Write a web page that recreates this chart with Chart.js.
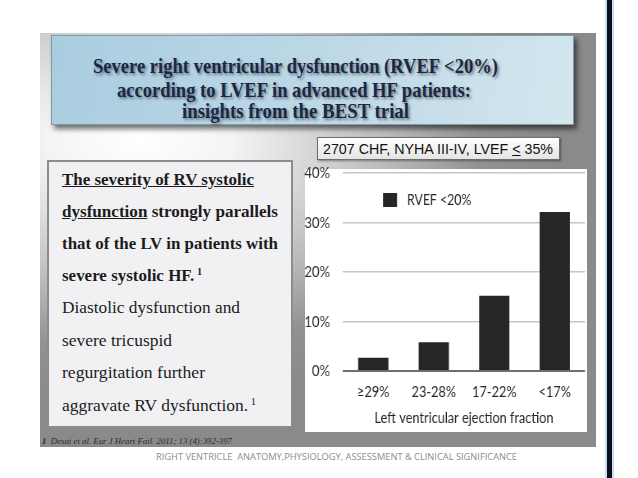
<!DOCTYPE html>
<html><head><meta charset="utf-8">
<script src="https://cdn.jsdelivr.net/npm/chart.js@4"></script>
<style>
html,body{margin:0;padding:0;background:#fff;width:638px;height:478px;overflow:hidden;position:relative}
.abs{position:absolute}
.ln{position:absolute;white-space:nowrap;transform-origin:left center}
#panel{left:40px;top:33px;width:556px;height:414px;background:radial-gradient(ellipse 75% 62% at 18% 26%, #ffffff 0%, #f4f4f4 22%, #bdbdbd 58%, #929292 82%, #8a8a8a 100%)}
#vline{left:605px;top:0;width:9px;height:478px;background:linear-gradient(to right,#c9dcf0 0,#c9dcf0 2px,#0b1020 2px,#0b1020 7px,#c9dcf0 7px,#c9dcf0 9px)}
#titlebox{left:51px;top:35px;width:521px;height:88px;background:linear-gradient(100deg,#a9cde0 0%,#bcd8e6 50%,#d3e6ee 100%);border:1px solid #7d9aa8;box-shadow:3px 4px 5px rgba(0,0,0,.55)}
.tl{font-family:'Liberation Serif',serif;font-weight:bold;font-size:22px;line-height:24px;height:24px;color:#1a2747;text-shadow:2px 2px 3px rgba(0,0,0,.45)}
#subbox{left:317px;top:137px;width:241px;height:21px;background:linear-gradient(#ffffff,#e4e4e4);border:1px solid #6d6d6d;box-shadow:1px 1px 2px rgba(0,0,0,.4)}
.sub{font-family:'Liberation Sans',sans-serif;font-size:14px;line-height:20px;height:20px;color:#111}
#textbox{left:47px;top:160px;width:242px;height:264px;background:#f1f1f3;border:2px solid #8c8c8c}
.bt{font-family:'Liberation Serif',serif;font-size:17.5px;line-height:32px;height:32px;color:#1c1c1c}
.b{font-weight:bold}
sup{font-size:60%;vertical-align:0;position:relative;top:-0.55em}
#chartbg{left:305px;top:169px;width:282px;height:263px;background:#fff}
#chartwrap{left:300px;top:160px;width:288px;height:272px}
#c{display:block;width:288px;height:272px}
.fn{font-family:'Liberation Serif',serif;font-style:italic;font-size:9px;line-height:12px;height:12px;color:#2a2a2a}
.ft{font-family:'Open Sans',sans-serif;font-size:9px;line-height:12px;height:12px;color:#8c8c8c}
</style></head>
<body>
<div id="panel" class="abs"></div>
<div id="vline" class="abs"></div>
<div id="titlebox" class="abs"></div>
<div class="ln tl" style="left:93px;top:54px" data-w="405">Severe right ventricular dysfunction (RVEF &lt;20%)</div>
<div class="ln tl" style="left:117px;top:78px" data-w="354">according to LVEF in advanced HF patients:</div>
<div class="ln tl" style="left:182px;top:99px" data-w="227">insights from the BEST trial</div>
<div id="subbox" class="abs"></div>
<div class="ln sub" style="left:323px;top:139px" data-w="230">2707 CHF, NYHA III-IV, LVEF <u>&lt;</u> 35%</div>
<div id="textbox" class="abs"></div>
<div class="ln bt b" style="left:62px;top:163px" data-w="192"><u>The severity of RV systolic</u></div>
<div class="ln bt b" style="left:62px;top:195px" data-w="216"><u>dysfunction</u> strongly parallels</div>
<div class="ln bt b" style="left:62px;top:227px" data-w="216">that of the LV in patients with</div>
<div class="ln bt b" style="left:62px;top:259px" data-w="140">severe systolic HF.<sup> 1</sup></div>
<div class="ln bt" style="left:62px;top:291px" data-w="178">Diastolic dysfunction and</div>
<div class="ln bt" style="left:62px;top:324px" data-w="110">severe tricuspid</div>
<div class="ln bt" style="left:62px;top:356px" data-w="143">regurgitation further</div>
<div class="ln bt" style="left:62px;top:389px" data-w="194">aggravate RV dysfunction.<sup> 1</sup></div>
<div id="chartbg" class="abs"></div>
<div id="chartwrap" class="abs"><canvas id="c" width="351" height="272"></canvas></div>
<div class="ln fn" style="left:42px;top:435px" data-w="190"><b>1</b>&nbsp; Desai et al. Eur J Heart Fail. 2011; 13 (4):392-397</div>
<div class="ln ft" style="left:156px;top:451px" data-w="361">RIGHT VENTRICLE &nbsp;ANATOMY,PHYSIOLOGY, ASSESSMENT &amp; CLINICAL SIGNIFICANCE</div>
<script>
const categories = ['\u226529%', '23-28%', '17-22%', '<17%'];
const rvefValues = [2.7, 5.8, 15.2, 32.1];
const yTickValues = [0, 10, 20, 30, 40];
const seriesLabel = 'RVEF <20%';
const axisTitle = 'Left ventricular ejection fraction';

function fitLines(){
  document.querySelectorAll('[data-w]').forEach(el=>{
    el.style.transform='none';
    const w = el.getBoundingClientRect().width;
    const t = +el.dataset.w;
    if (w>0) el.style.transform = 'scaleX(' + (t/w) + ')';
  });
}

// horizontal condensing factor of the chart canvas (internal width -> 288 displayed)
const SX = 288 / 351;
const FAM = "Lato, sans-serif";
const inlineLegend = {
  id: 'inlineLegend',
  afterDraw(chart){
    const {ctx, chartArea} = chart;
    const ds = chart.data.datasets[0];
    const x = chartArea.left + 40 / SX, y = chartArea.top + 20;
    ctx.save();
    ctx.fillStyle = ds.backgroundColor;
    ctx.fillRect(x, y, 14 / SX, 14);
    ctx.fillStyle = '#262626';
    ctx.font = '15px ' + FAM;
    ctx.textBaseline = 'middle';
    ctx.fillText(ds.label, x + 24 / SX, y + 7.5);
    ctx.restore();
  }
};

function makeChart(){
  new Chart(document.getElementById('c'), {
    type: 'bar',
    data: { labels: categories, datasets: [{ label: seriesLabel, data: rvefValues, backgroundColor: '#262626', barPercentage: 0.5, categoryPercentage: 1.0 }] },
    options: {
      responsive: false, animation: false, devicePixelRatio: 1,
      layout: { padding: { top: 13, right: 3 / SX, left: 0, bottom: 0 } },
      plugins: { legend: { display: false }, tooltip: { enabled: false } },
      scales: {
        y: {
          min: 0, max: 40,
          afterFit(s){ s.width = 43 / SX; s.paddingTop = 0; s.paddingBottom = 0; },
          afterBuildTicks(s){ s.ticks = yTickValues.map(v => ({ value: v })); },
          ticks: { padding: 13 / SX, color: '#333', font: { family: FAM, size: 16 }, callback: v => v + '%' },
          grid: { drawTicks: false, color: c => c.tick && c.tick.value === 0 ? '#6e6e6e' : '#c6c6c6', lineWidth: c => c.tick && c.tick.value === 0 ? 2 : 1.5 },
          border: { display: false }
        },
        x: {
          afterFit(s){ s.height = 61; },
          grid: { display: false, drawTicks: false }, border: { display: false },
          ticks: { padding: 12, color: '#262626', font: { family: FAM, size: 15.5 } },
          title: { display: true, text: axisTitle, color: '#262626', font: { family: FAM, size: 15.5 }, padding: { top: 0, bottom: 5 } }
        }
      }
    },
    plugins: [inlineLegend]
  });
  const cv = document.getElementById('c');
  cv.style.width = '288px'; cv.style.height = '272px';
}

Promise.all([document.fonts.load("15px Lato"), document.fonts.ready]).catch(()=>{}).then(()=>{ fitLines(); makeChart(); });
</script>
</body></html>
